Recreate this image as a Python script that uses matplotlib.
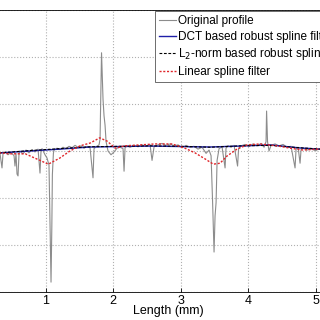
import matplotlib
matplotlib.use('Agg')
import matplotlib.pyplot as plt

plt.rcParams['font.family'] = ['Liberation Sans', 'DejaVu Sans']

# original measured profile (x in mm, height)
prof_x = [0.000, 0.178, 0.325, 0.355, 0.370, 0.400, 0.444, 0.488, 0.533, 0.547,
          0.562, 0.577, 0.592, 0.607, 0.621, 0.666, 0.710, 0.754, 0.799, 0.843,
          0.888, 0.917, 0.932, 0.947, 0.991, 1.021, 1.050, 1.065, 1.080, 1.092,
          1.100, 1.115, 1.124, 1.169, 1.213, 1.257, 1.302, 1.346, 1.391, 1.435,
          1.479, 1.524, 1.568, 1.612, 1.657, 1.701, 1.716, 1.746, 1.790, 1.805,
          1.827, 1.849, 1.864, 1.879, 1.894, 1.923, 1.967, 2.012, 2.056, 2.101,
          2.145, 2.160, 2.175, 2.204, 2.249, 2.308, 2.367, 2.426, 2.485, 2.544,
          2.574, 2.604, 2.663, 2.722, 2.781, 2.840, 2.899, 2.959, 3.018, 3.077,
          3.136, 3.195, 3.254, 3.314, 3.373, 3.417, 3.447, 3.469, 3.491, 3.506,
          3.521, 3.536, 3.565, 3.609, 3.654, 3.668, 3.698, 3.743, 3.787, 3.839,
          3.854, 3.891, 3.950, 4.009, 4.068, 4.127, 4.186, 4.231, 4.260, 4.268,
          4.282, 4.304, 4.334, 4.393, 4.453, 4.512, 4.571, 4.630, 4.689, 4.704,
          4.734, 4.763, 4.778, 4.808, 4.867, 4.926, 4.985, 5.044, 5.130, 5.280,
          5.430, 5.600]
prof_y = [-0.04, -0.06, -0.05, -0.36, -0.06, -0.02, -0.08, -0.03, -0.10, -0.32,
          -0.05, -0.49, -0.53, -0.04, 0.00, -0.06, 0.02, -0.04, 0.03, -0.02,
          0.04, -0.47, 0.00, 0.05, -0.08, -0.15, -0.30, -1.50, -2.79, -1.60,
          -0.50, -0.05, 0.02, 0.06, 0.03, 0.08, 0.05, 0.10, 0.07, 0.12,
          0.08, 0.11, 0.06, 0.10, 0.07, -0.57, 0.05, 0.09, 0.13, 0.25,
          2.09, 1.10, 0.75, 0.55, 0.20, 0.00, -0.08, -0.02, 0.06, 0.08,
          0.05, -0.43, 0.07, 0.11, 0.08, 0.12, 0.09, 0.13, 0.10, 0.14,
          -0.20, 0.09, 0.13, 0.16, 0.12, 0.15, 0.11, 0.13, 0.07, 0.12,
          0.08, 0.10, 0.04, 0.08, -0.05, 0.02, -0.10, -1.06, -2.15, -1.38,
          -1.10, -0.20, 0.05, 0.09, -0.36, 0.06, 0.11, 0.08, 0.12, -0.32,
          0.05, 0.11, 0.14, 0.10, 0.15, 0.11, 0.16, 0.08, 0.20, 0.85,
          0.20, 0.00, 0.12, 0.15, 0.11, 0.14, 0.08, 0.10, -0.36, 0.04,
          0.08, -0.26, 0.03, 0.06, 0.02, 0.05, 0.01, 0.04, 0.00, 0.03,
          -0.01, 0.02]

# DCT based robust spline filter
dct_x = [0.00, 0.33, 0.77, 1.21, 1.66, 2.10, 2.54, 2.99, 3.43, 3.88, 4.32, 4.76, 5.06, 5.60]
dct_y = [-0.06, -0.04, 0.00, 0.04, 0.085, 0.095, 0.105, 0.095, 0.085, 0.105, 0.13, 0.065, 0.04, 0.02]

# L2-norm based robust spline filter
l2_x = [0.00, 0.33, 0.77, 1.21, 1.66, 2.10, 2.54, 2.99, 3.43, 3.88, 4.32, 4.76, 5.06, 5.60]
l2_y = [-0.05, -0.04, 0.01, 0.05, 0.09, 0.10, 0.11, 0.10, 0.08, 0.11, 0.12, 0.07, 0.04, 0.02]

# linear spline filter
lin_x = [0.00, 0.33, 0.47, 0.70, 0.87, 1.04, 1.21, 1.36, 1.51, 1.66, 1.80, 1.91, 2.03,
         2.17, 2.62, 2.87, 3.06, 3.21, 3.36, 3.48, 3.58, 3.68, 3.83, 3.98, 4.17, 4.42,
         4.62, 4.81, 5.02, 5.60]
lin_y = [-0.02, -0.04, -0.06, -0.06, -0.17, -0.28, -0.15, 0.00, 0.11, 0.17, 0.28, 0.21, 0.06,
         0.11, 0.15, 0.15, 0.06, -0.04, -0.17, -0.28, -0.26, -0.11, 0.04, 0.13, 0.15, 0.11,
         0.06, 0.02, 0.04, 0.02]

xticks = [0, 1, 2, 3, 4, 5]
xticklabels = ['', '1', '2', '3', '4', '5']   # the 0 label lies outside the crop

fig = plt.figure(figsize=(3.2, 3.2), dpi=100)
# axes deliberately larger than the canvas (cropped figure)
ax = fig.add_axes([-22 / 320, 1 - 292 / 320, 380 / 320, 282 / 320])

ax.plot(prof_x, prof_y, color='#8c8c8c', lw=0.8, label='Original profile')
ax.plot(dct_x, dct_y, color='#1f1fa8', lw=1.0, label='DCT based robust spline filter')
ax.plot(l2_x, l2_y, color='black', lw=0.8, ls=(0, (2.5, 1.5)),
        label='L$_2$-norm based robust spline filter')
ax.plot(lin_x, lin_y, color='#e0262b', lw=1.0, ls=(0, (1.5, 1.2)), label='Linear spline filter')

ax.set_xlim(0, 5.62)
ax.set_ylim(-3, 3)
ax.set_xticks(xticks)
ax.set_xticklabels(xticklabels)
ax.set_yticks([-3, -2, -1, 0, 1, 2, 3])
ax.set_yticklabels([])   # y labels fall outside the crop
ax.grid(True, color='#b0b0b0', ls=':', lw=0.8)
ax.tick_params(labelsize=9, direction='in', length=3, width=0.6, pad=2)
for s in ax.spines.values():
    s.set_linewidth(0.6)
ax.set_xlabel('Length (mm)', fontsize=9, labelpad=-1)

leg = ax.legend(loc='upper left', bbox_to_anchor=(155 / 320, 1 - 11 / 320),
                bbox_transform=fig.transFigure, borderaxespad=0, fontsize=8.5,
                fancybox=False, framealpha=1, edgecolor='#555555',
                handlelength=1.4, handletextpad=0.2, labelspacing=0.3,
                borderpad=0.35)
leg.get_frame().set_linewidth(0.6)

fig.savefig('out.png', dpi=100)
